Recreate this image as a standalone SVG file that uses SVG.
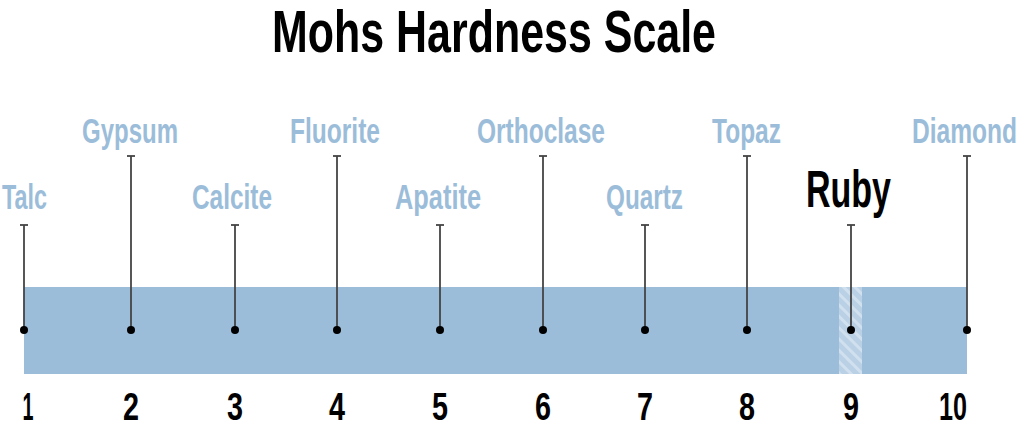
<svg xmlns="http://www.w3.org/2000/svg" width="1024" height="427" viewBox="0 0 1024 427">
  <style>
    .title { font-family: "Liberation Sans Narrow", "Liberation Sans", Arial, sans-serif; font-weight: bold; font-size: 59px; fill: #000; }
    .lbl { font-family: "Liberation Sans Narrow", "Liberation Sans", Arial, sans-serif; font-weight: bold; font-size: 35px; fill: #9bbdd9; }
    .ruby { font-family: "Liberation Sans Narrow", "Liberation Sans", Arial, sans-serif; font-weight: bold; font-size: 51px; fill: #000; }
    .num { font-family: "Liberation Sans Narrow", "Liberation Sans", Arial, sans-serif; font-weight: bold; font-size: 39px; fill: #000; text-anchor: middle; }
    .stem { stroke: #444; stroke-width: 1.8; fill: none; }
    .cap { stroke: #444; stroke-width: 1.8; }
    .dot { fill: #000; }
  </style>
  <defs>
    <pattern id="hatch" patternUnits="userSpaceOnUse" width="8" height="8" patternTransform="rotate(-45)">
      <rect width="8" height="8" fill="#b9d0e5"/>
      <rect x="0" y="0" width="3" height="8" fill="#d0e0ee"/>
    </pattern>
  </defs>

  <rect width="1024" height="427" fill="#fff"/>

  <text class="title" x="272" y="52" textLength="444" lengthAdjust="spacingAndGlyphs">Mohs Hardness Scale</text>

  <g id="bar">
    <rect x="24" y="287" width="943" height="87" fill="#9bbdd9"/>
    <rect x="839" y="287" width="23" height="87" fill="url(#hatch)"/>
  </g>

  <g id="connectors">
    <line class="stem" x1="24" y1="225" x2="24" y2="330"/>
    <line class="cap" x1="20" y1="225" x2="28" y2="225"/>
    <line class="stem" x1="131" y1="156" x2="131" y2="330"/>
    <line class="cap" x1="127" y1="156" x2="135" y2="156"/>
    <line class="stem" x1="235" y1="225" x2="235" y2="330"/>
    <line class="cap" x1="231" y1="225" x2="239" y2="225"/>
    <line class="stem" x1="337" y1="156" x2="337" y2="330"/>
    <line class="cap" x1="333" y1="156" x2="341" y2="156"/>
    <line class="stem" x1="440" y1="225" x2="440" y2="330"/>
    <line class="cap" x1="436" y1="225" x2="444" y2="225"/>
    <line class="stem" x1="543" y1="156" x2="543" y2="330"/>
    <line class="cap" x1="539" y1="156" x2="547" y2="156"/>
    <line class="stem" x1="645" y1="225" x2="645" y2="330"/>
    <line class="cap" x1="641" y1="225" x2="649" y2="225"/>
    <line class="stem" x1="747" y1="156" x2="747" y2="330"/>
    <line class="cap" x1="743" y1="156" x2="751" y2="156"/>
    <line class="stem" x1="851" y1="225" x2="851" y2="330"/>
    <line class="cap" x1="847" y1="225" x2="855" y2="225"/>
    <line class="stem" x1="967" y1="156" x2="967" y2="330"/>
    <line class="cap" x1="963" y1="156" x2="971" y2="156"/>
    <circle class="dot" cx="24" cy="330" r="4"/>
    <circle class="dot" cx="131" cy="330" r="4"/>
    <circle class="dot" cx="235" cy="330" r="4"/>
    <circle class="dot" cx="337" cy="330" r="4"/>
    <circle class="dot" cx="440" cy="330" r="4"/>
    <circle class="dot" cx="543" cy="330" r="4"/>
    <circle class="dot" cx="645" cy="330" r="4"/>
    <circle class="dot" cx="747" cy="330" r="4"/>
    <circle class="dot" cx="851" cy="330" r="4"/>
    <circle class="dot" cx="967" cy="330" r="4"/>
  </g>

  <g id="talc"><text class="lbl" x="2" y="209" textLength="45" lengthAdjust="spacingAndGlyphs">Talc</text></g>
  <g id="gypsum"><text class="lbl" x="82" y="143" textLength="96" lengthAdjust="spacingAndGlyphs">Gypsum</text></g>
  <g id="calcite"><text class="lbl" x="192" y="209" textLength="80" lengthAdjust="spacingAndGlyphs">Calcite</text></g>
  <g id="fluorite"><text class="lbl" x="290" y="143" textLength="90" lengthAdjust="spacingAndGlyphs">Fluorite</text></g>
  <g id="apatite"><text class="lbl" x="395" y="209" textLength="86" lengthAdjust="spacingAndGlyphs">Apatite</text></g>
  <g id="orthoclase"><text class="lbl" x="477" y="143" textLength="128" lengthAdjust="spacingAndGlyphs">Orthoclase</text></g>
  <g id="quartz"><text class="lbl" x="606" y="209" textLength="77" lengthAdjust="spacingAndGlyphs">Quartz</text></g>
  <g id="topaz"><text class="lbl" x="712" y="143" textLength="69" lengthAdjust="spacingAndGlyphs">Topaz</text></g>
  <g id="ruby"><text class="ruby" x="806" y="207" textLength="85" lengthAdjust="spacingAndGlyphs">Ruby</text></g>
  <g id="diamond"><text class="lbl" transform="translate(912,143) scale(0.7,1)" x="0" y="0" textLength="150" lengthAdjust="spacingAndGlyphs">Diamond</text></g>

  <g id="numbers">
    <text class="num" x="28" y="420" textLength="11" lengthAdjust="spacingAndGlyphs">1</text>
    <text class="num" x="131" y="420" textLength="16" lengthAdjust="spacingAndGlyphs">2</text>
    <text class="num" x="235" y="420" textLength="16" lengthAdjust="spacingAndGlyphs">3</text>
    <text class="num" x="337" y="420" textLength="16" lengthAdjust="spacingAndGlyphs">4</text>
    <text class="num" x="440" y="420" textLength="16" lengthAdjust="spacingAndGlyphs">5</text>
    <text class="num" x="543" y="420" textLength="16" lengthAdjust="spacingAndGlyphs">6</text>
    <text class="num" x="645" y="420" textLength="16" lengthAdjust="spacingAndGlyphs">7</text>
    <text class="num" x="747" y="420" textLength="16" lengthAdjust="spacingAndGlyphs">8</text>
    <text class="num" x="851" y="420" textLength="16" lengthAdjust="spacingAndGlyphs">9</text>
    <text class="num" x="953" y="420" textLength="28" lengthAdjust="spacingAndGlyphs">10</text>
  </g>
</svg>
